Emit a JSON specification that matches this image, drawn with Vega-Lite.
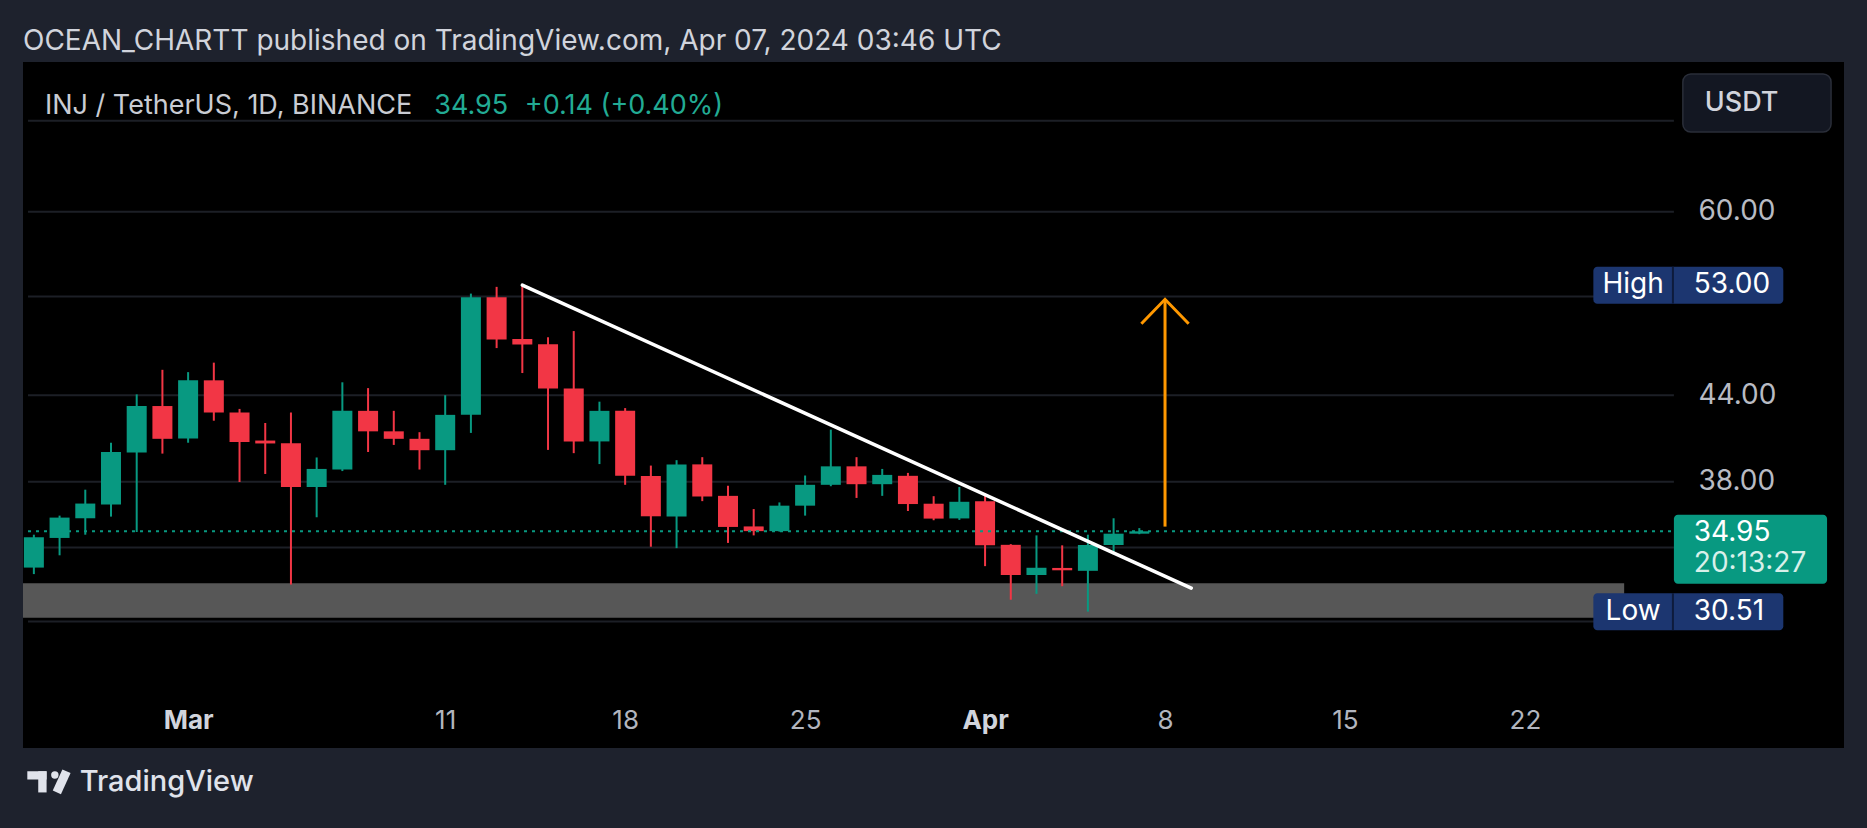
{
  "$schema": "https://vega.github.io/schema/vega-lite/v6.json",
  "width": 1821,
  "height": 686,
  "autosize": {"type": "none"},
  "padding": {"left": 23, "top": 62, "right": 23, "bottom": 80},
  "background": "#1e222d",
  "title": {
    "text": "OCEAN_CHARTT published on TradingView.com, Apr 07, 2024 03:46 UTC",
    "anchor": "start",
    "frame": "group",
    "font": "Inter",
    "fontSize": 28,
    "fontWeight": "normal",
    "color": "#d1d4dc",
    "offset": 6
  },
  "config": {
    "view": {"fill": "#000000", "stroke": null},
    "text": {"font": "Inter"}
  },
  "resolve": {"axis": {"x": "independent", "y": "independent"}},
  "datasets": {
    "candles": [
      {"date": "2024-02-24", "open": 32.87, "high": 34.75, "low": 32.51, "close": 34.60},
      {"date": "2024-02-25", "open": 34.56, "high": 35.89, "low": 33.56, "close": 35.77},
      {"date": "2024-02-26", "open": 35.73, "high": 37.50, "low": 34.75, "close": 36.63},
      {"date": "2024-02-27", "open": 36.57, "high": 40.60, "low": 35.83, "close": 39.97},
      {"date": "2024-02-28", "open": 39.93, "high": 44.06, "low": 34.91, "close": 43.20},
      {"date": "2024-02-29", "open": 43.20, "high": 45.93, "low": 39.86, "close": 40.87},
      {"date": "2024-03-01", "open": 40.90, "high": 45.75, "low": 40.60, "close": 45.12},
      {"date": "2024-03-02", "open": 45.12, "high": 46.49, "low": 42.14, "close": 42.73},
      {"date": "2024-03-03", "open": 42.73, "high": 42.99, "low": 37.99, "close": 40.65},
      {"date": "2024-03-04", "open": 40.75, "high": 41.98, "low": 38.51, "close": 40.55},
      {"date": "2024-03-05", "open": 40.56, "high": 42.73, "low": 31.94, "close": 37.67},
      {"date": "2024-03-06", "open": 37.67, "high": 39.60, "low": 35.79, "close": 38.84},
      {"date": "2024-03-07", "open": 38.80, "high": 44.97, "low": 38.70, "close": 42.85},
      {"date": "2024-03-08", "open": 42.85, "high": 44.53, "low": 39.97, "close": 41.39},
      {"date": "2024-03-09", "open": 41.39, "high": 42.85, "low": 40.45, "close": 40.87},
      {"date": "2024-03-10", "open": 40.87, "high": 41.33, "low": 38.80, "close": 40.09},
      {"date": "2024-03-11", "open": 40.09, "high": 44.00, "low": 37.81, "close": 42.56},
      {"date": "2024-03-12", "open": 42.56, "high": 52.25, "low": 41.28, "close": 51.93},
      {"date": "2024-03-13", "open": 51.93, "high": 52.85, "low": 47.65, "close": 48.34},
      {"date": "2024-03-14", "open": 48.39, "high": 53.00, "low": 45.68, "close": 47.94},
      {"date": "2024-03-15", "open": 47.96, "high": 48.53, "low": 40.11, "close": 44.50},
      {"date": "2024-03-16", "open": 44.50, "high": 49.04, "low": 39.89, "close": 40.69},
      {"date": "2024-03-17", "open": 40.69, "high": 43.52, "low": 39.16, "close": 42.85},
      {"date": "2024-03-18", "open": 42.85, "high": 43.05, "low": 37.81, "close": 38.39},
      {"date": "2024-03-19", "open": 38.38, "high": 39.06, "low": 34.05, "close": 35.85},
      {"date": "2024-03-20", "open": 35.83, "high": 39.42, "low": 33.97, "close": 39.14},
      {"date": "2024-03-21", "open": 39.14, "high": 39.62, "low": 36.78, "close": 37.07},
      {"date": "2024-03-22", "open": 37.11, "high": 37.75, "low": 34.27, "close": 35.21},
      {"date": "2024-03-23", "open": 35.24, "high": 36.29, "low": 34.71, "close": 34.96},
      {"date": "2024-03-24", "open": 34.96, "high": 36.70, "low": 34.93, "close": 36.50},
      {"date": "2024-03-25", "open": 36.50, "high": 38.41, "low": 35.89, "close": 37.81},
      {"date": "2024-03-26", "open": 37.81, "high": 41.51, "low": 37.72, "close": 39.01},
      {"date": "2024-03-27", "open": 39.01, "high": 39.62, "low": 36.98, "close": 37.85},
      {"date": "2024-03-28", "open": 37.85, "high": 38.84, "low": 37.11, "close": 38.45},
      {"date": "2024-03-29", "open": 38.39, "high": 38.58, "low": 36.17, "close": 36.60},
      {"date": "2024-03-30", "open": 36.62, "high": 37.09, "low": 35.61, "close": 35.71},
      {"date": "2024-03-31", "open": 35.72, "high": 37.67, "low": 35.63, "close": 36.74},
      {"date": "2024-04-01", "open": 36.78, "high": 37.26, "low": 32.95, "close": 34.14},
      {"date": "2024-04-02", "open": 34.16, "high": 34.20, "low": 31.13, "close": 32.46},
      {"date": "2024-04-03", "open": 32.46, "high": 34.71, "low": 31.44, "close": 32.86},
      {"date": "2024-04-04", "open": 32.85, "high": 34.13, "low": 31.85, "close": 32.72},
      {"date": "2024-04-05", "open": 32.69, "high": 34.75, "low": 30.51, "close": 34.15},
      {"date": "2024-04-06", "open": 34.15, "high": 35.73, "low": 33.61, "close": 34.81},
      {"date": "2024-04-07", "open": 34.81, "high": 35.14, "low": 34.78, "close": 34.95}
    ],
    "grid": [{"price": 30}, {"price": 34}, {"price": 38}, {"price": 44}, {"price": 52}, {"price": 60}, {"price": 70}],
    "zone": [{"from": "2024-02-20", "to": "2024-04-25T20:38:00Z", "top": 32.01, "bottom": 30.19}],
    "trend": [{"date": "2024-03-14", "price": 53.0}, {"date": "2024-04-09T00:29:00Z", "price": 31.75}],
    "arrow": [
      {"part": "shaft", "ord": 1, "date": "2024-04-08", "price": 35.23},
      {"part": "shaft", "ord": 2, "date": "2024-04-08", "price": 51.75},
      {"part": "head", "ord": 1, "date": "2024-04-07T01:55:00Z", "price": 49.65},
      {"part": "head", "ord": 2, "date": "2024-04-08", "price": 51.75},
      {"part": "head", "ord": 3, "date": "2024-04-08T22:05:00Z", "price": 49.65}
    ],
    "last": [{"price": 34.95, "countdown": "20:13:27"}],
    "extremes": [{"label": "High", "price": 53.00}, {"label": "Low", "price": 30.51}],
    "one": [{}]
  },
  "layer": [
    {
      "data": {"name": "grid"},
      "mark": {"type": "rule", "color": "#1c1f26", "strokeWidth": 2},
      "encoding": {
        "x": {"datum": 1708713080000, "type": "temporal", "axis": null},
        "x2": {"datum": 1714244686000},
        "y": {"field": "price", "type": "quantitative", "axis": null}
      }
    },
    {
      "data": {"name": "zone"},
      "mark": {"type": "rect", "color": "#575757", "clip": true},
      "encoding": {
        "x": {"field": "from", "type": "temporal", "axis": null},
        "x2": {"field": "to"},
        "y": {"field": "top", "type": "quantitative", "axis": null},
        "y2": {"field": "bottom"}
      }
    },
    {
      "data": {"name": "candles"},
      "mark": {"type": "rule", "strokeWidth": 2, "clip": true},
      "encoding": {
        "x": {"field": "date", "type": "temporal", "axis": null},
        "y": {"field": "low", "type": "quantitative", "axis": null},
        "y2": {"field": "high"},
        "color": {"condition": {"test": "datum.close >= datum.open", "value": "#089981"}, "value": "#f23645"}
      }
    },
    {
      "data": {"name": "candles"},
      "mark": {"type": "bar", "size": 20, "clip": true},
      "encoding": {
        "x": {
          "field": "date", "type": "temporal",
          "scale": {"type": "utc", "domain": [1708713080000, 1714799517000]},
          "axis": {
            "orient": "bottom",
            "values": [1709251200000, 1710115200000, 1710720000000, 1711324800000, 1711929600000, 1712534400000, 1713139200000, 1713744000000],
            "labelExpr": "utcdate(datum.value) == 1 ? utcFormat(datum.value, '%b') : utcFormat(datum.value, '%-d')",
            "labelFontWeight": {"condition": {"test": "utcdate(datum.value) == 1", "value": "bold"}, "value": "normal"},
            "labelColor": {"condition": {"test": "utcdate(datum.value) == 1", "value": "#d1d4dc"}, "value": "#b2b5be"},
            "labelFont": "Inter", "labelFontSize": 26,
            "title": null, "grid": false, "ticks": false, "domain": false,
            "offset": -28, "labelPadding": 0, "labelBaseline": "middle",
            "labelOverlap": false, "labelFlush": false
          }
        },
        "y": {
          "field": "open", "type": "quantitative",
          "scale": {"type": "log", "domain": [24.43, 76.66], "nice": false, "zero": false},
          "axis": {
            "orient": "right",
            "values": [38, 44, 60],
            "format": ".2f",
            "labelFont": "Inter", "labelFontSize": 28, "labelColor": "#b8bbc3",
            "title": null, "grid": false, "ticks": false, "domain": false,
            "offset": -146, "labelPadding": 0, "labelAlign": "left", "labelBaseline": "middle",
            "labelOverlap": false, "labelFlush": false
          }
        },
        "y2": {"field": "close"},
        "color": {"condition": {"test": "datum.close >= datum.open", "value": "#089981"}, "value": "#f23645"}
      }
    },
    {
      "data": {"name": "last"},
      "mark": {"type": "rule", "color": "#089981", "strokeWidth": 2, "strokeDash": [3, 5]},
      "encoding": {
        "x": {"datum": 1708713080000, "type": "temporal", "axis": null},
        "x2": {"datum": 1714244686000},
        "y": {"field": "price", "type": "quantitative", "axis": null}
      }
    },
    {
      "data": {"name": "trend"},
      "mark": {"type": "line", "color": "#ffffff", "strokeWidth": 3.5, "strokeCap": "round"},
      "encoding": {
        "x": {"field": "date", "type": "temporal", "axis": null},
        "y": {"field": "price", "type": "quantitative", "axis": null}
      }
    },
    {
      "data": {"name": "arrow"},
      "mark": {"type": "line", "color": "#ff9800", "strokeWidth": 3, "strokeJoin": "miter"},
      "encoding": {
        "x": {"field": "date", "type": "temporal", "axis": null},
        "y": {"field": "price", "type": "quantitative", "axis": null},
        "detail": {"field": "part"},
        "order": {"field": "ord"}
      }
    },
    {
      "data": {"name": "one"},
      "mark": {"type": "text", "text": "INJ / TetherUS, 1D, BINANCE", "align": "left", "baseline": "middle", "fontSize": 27, "color": "#c9ccd3"},
      "encoding": {
        "x": {"datum": 1708769900000, "type": "temporal", "axis": null},
        "y": {"datum": 71.75, "type": "quantitative", "axis": null}
      }
    },
    {
      "data": {"name": "one"},
      "mark": {"type": "text", "text": "34.95", "align": "left", "baseline": "middle", "fontSize": 27, "color": "#22ab94"},
      "encoding": {
        "x": {"datum": 1710078434000, "type": "temporal", "axis": null},
        "y": {"datum": 71.75, "type": "quantitative", "axis": null}
      }
    },
    {
      "data": {"name": "one"},
      "mark": {"type": "text", "text": "+0.14 (+0.40%)", "align": "left", "baseline": "middle", "fontSize": 27, "color": "#22ab94"},
      "encoding": {
        "x": {"datum": 1710382923000, "type": "temporal", "axis": null},
        "y": {"datum": 71.75, "type": "quantitative", "axis": null}
      }
    },
    {
      "data": {"name": "one"},
      "mark": {"type": "rect", "fill": "#131722", "stroke": "#2a2e39", "strokeWidth": 1.5, "cornerRadius": 8},
      "encoding": {
        "x": {"datum": 1714274767000, "type": "temporal", "axis": null},
        "x2": {"datum": 1714772778000},
        "y": {"datum": 75.77, "type": "quantitative", "axis": null},
        "y2": {"datum": 68.67}
      }
    },
    {
      "data": {"name": "one"},
      "mark": {"type": "text", "text": "USDT", "align": "left", "baseline": "middle", "fontSize": 27, "fontWeight": 500, "color": "#d1d4dc"},
      "encoding": {
        "x": {"datum": 1714348299000, "type": "temporal", "axis": null},
        "y": {"datum": 72.19, "type": "quantitative", "axis": null}
      }
    },
    {
      "data": {"name": "extremes"},
      "mark": {"type": "bar", "orient": "horizontal", "size": 37, "color": "#1c3670", "cornerRadius": 4},
      "encoding": {
        "x": {"datum": 1713973954000, "type": "temporal", "axis": null},
        "x2": {"datum": 1714612345000},
        "y": {"field": "price", "type": "quantitative", "axis": null}
      }
    },
    {
      "data": {"name": "extremes"},
      "mark": {"type": "bar", "orient": "horizontal", "size": 37, "color": "#0e1b3c"},
      "encoding": {
        "x": {"datum": 1714238000000, "type": "temporal", "axis": null},
        "x2": {"datum": 1714244686000},
        "y": {"field": "price", "type": "quantitative", "axis": null}
      }
    },
    {
      "data": {"name": "extremes"},
      "mark": {"type": "text", "align": "center", "baseline": "middle", "fontSize": 28, "color": "#ffffff"},
      "encoding": {
        "x": {"datum": 1714107649000, "type": "temporal", "axis": null},
        "y": {"field": "price", "type": "quantitative", "axis": null},
        "text": {"field": "label"}
      }
    },
    {
      "data": {"name": "extremes"},
      "mark": {"type": "text", "align": "left", "baseline": "middle", "fontSize": 28, "color": "#ffffff"},
      "encoding": {
        "x": {"datum": 1714311533000, "type": "temporal", "axis": null},
        "y": {"field": "price", "type": "quantitative", "axis": null},
        "text": {"field": "price", "format": ".2f"}
      }
    },
    {
      "data": {"name": "last"},
      "mark": {"type": "bar", "orient": "horizontal", "size": 69, "yOffset": 18, "color": "#089981", "cornerRadius": 4},
      "encoding": {
        "x": {"datum": 1714244686000, "type": "temporal", "axis": null},
        "x2": {"datum": 1714759409000},
        "y": {"field": "price", "type": "quantitative", "axis": null}
      }
    },
    {
      "data": {"name": "last"},
      "mark": {"type": "text", "align": "left", "baseline": "middle", "fontSize": 28, "dy": 2, "color": "#ffffff"},
      "encoding": {
        "x": {"datum": 1714311533000, "type": "temporal", "axis": null},
        "y": {"field": "price", "type": "quantitative", "axis": null},
        "text": {"field": "price", "format": ".2f"}
      }
    },
    {
      "data": {"name": "last"},
      "mark": {"type": "text", "align": "left", "baseline": "middle", "fontSize": 28, "dy": 33, "color": "#d8f0ea"},
      "encoding": {
        "x": {"datum": 1714311533000, "type": "temporal", "axis": null},
        "y": {"field": "price", "type": "quantitative", "axis": null},
        "text": {"field": "countdown"}
      }
    },
    {
      "data": {"name": "one"},
      "mark": {"type": "text", "text": "TradingView", "align": "left", "baseline": "middle", "fontSize": 29, "fontWeight": 500, "color": "#e0e3eb"},
      "encoding": {
        "x": {"datum": 1708886883000, "type": "temporal", "axis": null},
        "y": {"datum": 22.86, "type": "quantitative", "axis": null}
      }
    },
    {
      "data": {"name": "one"},
      "mark": {"type": "rect", "color": "#e0e3eb"},
      "encoding": {
        "x": {"datum": 1708710768000, "type": "temporal", "axis": null},
        "x2": {"datum": 1708775568000},
        "y": {"datum": 23.29, "type": "quantitative", "axis": null},
        "y2": {"datum": 22.97}
      }
    },
    {
      "data": {"name": "one"},
      "mark": {"type": "rect", "color": "#e0e3eb"},
      "encoding": {
        "x": {"datum": 1708747488000, "type": "temporal", "axis": null},
        "x2": {"datum": 1708775568000},
        "y": {"datum": 23.29, "type": "quantitative", "axis": null},
        "y2": {"datum": 22.47}
      }
    },
    {
      "data": {"name": "one"},
      "mark": {"type": "circle", "color": "#e0e3eb", "opacity": 1, "size": 55},
      "encoding": {
        "x": {"datum": 1708803302400, "type": "temporal", "axis": null},
        "y": {"datum": 23.14, "type": "quantitative", "axis": null}
      }
    },
    {
      "data": {"name": "one"},
      "mark": {"type": "rule", "color": "#e0e3eb", "strokeWidth": 9},
      "encoding": {
        "x": {"datum": 1708842441600, "type": "temporal", "axis": null},
        "x2": {"datum": 1708810041600},
        "y": {"datum": 23.29, "type": "quantitative", "axis": null},
        "y2": {"datum": 22.47}
      }
    }
  ]
}
